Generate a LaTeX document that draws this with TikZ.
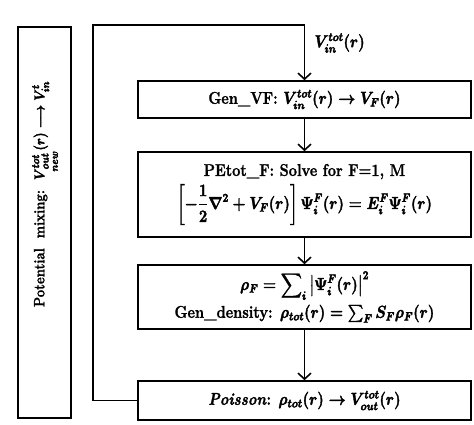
\documentclass[tikz,border=0pt]{standalone}
\usepackage{amsmath,amssymb,graphicx}
\usepackage{fontspec}
\setmainfont{Latin Modern Roman}[BoldFeatures={FakeBold=1.5},BoldItalicFeatures={FakeBold=1.5}]
\usetikzlibrary{arrows.meta}
\newcommand\fakebold[1]{\special{pdf:code q 2 Tr 0.4 w}#1\special{pdf:code Q}}
\newcommand\fm[1]{\fakebold{$#1$}}
\newcommand\hsq[1]{\scalebox{0.86}[1]{\bfseries\boldmath #1}}
\newcommand\hsqb[1]{\scalebox{0.88}[1]{\bfseries\boldmath #1}}
\begin{document}
\begin{tikzpicture}[x=1pt,y=-1pt,
  every node/.style={font=\fontsize{17}{20}\selectfont\bfseries\boldmath},
  stage/.style={draw,line width=1.6pt,minimum width=333pt,inner sep=0pt,align=center},
  flow/.style={line width=1.6pt,-{Straight Barb[length=6pt,width=13pt,line width=1.6pt]}}]
\useasboundingbox (0,0) rectangle (474,424);
\node[stage,minimum height=37pt] (gen) at (304.5,99.5) {\hsq{Gen\_VF: \fm{V_{in}^{tot}(r)\rightarrow V_F(r)}}};
\node[stage,minimum height=85pt] (pe) at (304.5,194.5) {\hsq{PEtot\_F: Solve for F=1, M}\\[4pt]
  \hsq{\fm{\displaystyle\left[-\frac{1}{2}\nabla^2+V_F(r)\right]\Psi_i^F(r)=E_i^F\Psi_i^F(r)}}};
\node[stage,minimum height=64pt] (rho) at (304.5,297) {\hsq{\fm{\displaystyle\rho_F=\sum\nolimits_i\left|\Psi_i^F(r)\right|^2}}\\[4pt]
  \hsq{Gen\_density: \fm{\rho_{tot}(r)=\sum_F S_F\rho_F(r)}}};
\node[stage,minimum height=39pt] (poi) at (304.5,400.5) {\hsq{\textit{Poisson}: \fm{\rho_{tot}(r)\rightarrow V_{out}^{tot}(r)}}};
\node[draw,line width=1.6pt,minimum width=53pt,minimum height=391pt,inner sep=0pt] (mix) at (44.5,222.5) {};
\node[rotate=90,font=\fontsize{15}{18}\selectfont\bfseries\boldmath] (mixtxt) at (45,194) {\hsqb{Potential\ \ mixing:\ \ \fm{V_{\substack{out\\new}}^{tot}(r)\longrightarrow V_{in}^{t}}}};
\coordinate (c1) at (93,400.5);
\coordinate (c2) at (93,25);
\coordinate (c3) at (304.5,25);
\draw[flow] (poi.west) -- (c1) -- (c2) -- (c3) -- (gen.north);
\node[anchor=west] (vin) at (311,43) {\hsq{\fm{V_{in}^{tot}(r)}}};
\draw[flow] (gen) -- (pe);
\draw[flow] (pe) -- (rho);
\draw[flow] (rho) -- (poi);
\end{tikzpicture}
\end{document}
